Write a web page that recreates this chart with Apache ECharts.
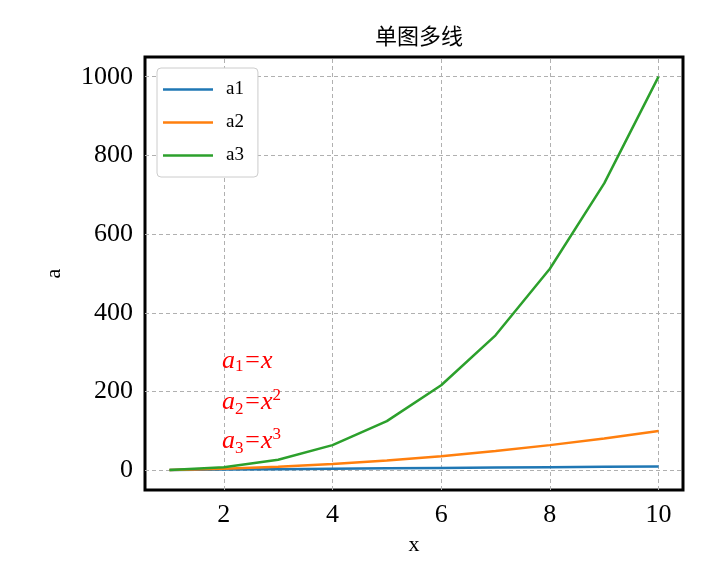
<!DOCTYPE html>
<html><head><meta charset="utf-8">
<script src="https://cdn.jsdelivr.net/npm/echarts@6/dist/echarts.min.js"></script>
<style>body{margin:0}#c{width:720px;height:576px}</style></head>
<body><div id="c"></div>
<script>
const xs=[1,2,3,4,5,6,7,8,9,10];
const a1=[1,2,3,4,5,6,7,8,9,10];
const a2=[1,4,9,16,25,36,49,64,81,100];
const a3=[1,8,27,64,125,216,343,512,729,1000];
const xTicks=[2,4,6,8,10];
const yTicks=[0,200,400,600,800,1000];
const F='Liberation Serif';
const c=echarts.init(document.getElementById('c'));
const grid=[...yTicks.map(v=>({yAxis:v})),...xTicks.map(v=>({xAxis:v}))];
c.setOption({
 animation:false,
 title:{text:'单图多线',left:414,top:20,textAlign:'center',textStyle:{fontFamily:'Noto Sans CJK SC',fontSize:22,fontWeight:'normal',color:'#000'}},
 grid:{left:145,right:37,top:57,bottom:86,show:true,borderColor:'#000',borderWidth:3},
 legend:{left:157,top:68,orient:'vertical',itemGap:14,padding:[12,14,12,6],borderColor:'#ccc',borderWidth:1,borderRadius:4,backgroundColor:'#fff',
   icon:'rect',itemWidth:50,itemHeight:2.5,textStyle:{fontFamily:F,fontSize:19,color:'#000',padding:[0,0,0,8]},data:['a1','a2','a3']},
 xAxis:{type:'value',min:0.55,max:10.45,interval:0.05,name:'x',nameLocation:'middle',nameGap:44,nameTextStyle:{fontFamily:F,fontSize:22,color:'#000'},
   axisLine:{show:false},axisTick:{show:false},splitLine:{show:false},
   axisLabel:{fontFamily:F,fontSize:26,color:'#000',margin:12,formatter:v=>{const r=Math.round(v);return Math.abs(v-r)<1e-6&&xTicks.includes(r)?String(r):'';}}},
 yAxis:{type:'value',min:-50,max:1050,interval:50,name:'a',nameLocation:'middle',nameGap:80,nameTextStyle:{fontFamily:F,fontSize:22,color:'#000'},
   axisLine:{show:false},axisTick:{show:false},splitLine:{show:false},
   axisLabel:{fontFamily:F,fontSize:26,color:'#000',margin:12,formatter:v=>yTicks.includes(Math.round(v))&&Math.abs(v-Math.round(v))<1e-6?String(Math.round(v)):''}},
 series:[
  {name:'a1',type:'line',data:xs.map((x,i)=>[x,a1[i]]),symbol:'none',lineStyle:{color:'#1f77b4',width:2.5},itemStyle:{color:'#1f77b4'},z:3,
   markLine:{silent:true,symbol:'none',label:{show:false},lineStyle:{color:'#b0b0b0',type:[4,3],width:1},data:grid,z:1}},
  {name:'a2',type:'line',data:xs.map((x,i)=>[x,a2[i]]),symbol:'none',lineStyle:{color:'#ff7f0e',width:2.5},itemStyle:{color:'#ff7f0e'},z:3},
  {name:'a3',type:'line',data:xs.map((x,i)=>[x,a3[i]]),symbol:'none',lineStyle:{color:'#2ca02c',width:2.5},itemStyle:{color:'#2ca02c'},z:3}
 ],
 graphic:[['1','x',''],['2','x','2'],['3','x','3']].map((t,i)=>({type:'text',left:222,top:348+i*39,z:10,style:{
   text:'{m|a}{s|'+t[0]+'}{m|=x}'+(t[2]?'{p|'+t[2]+'}':''),
   rich:{m:{fontFamily:F,fontStyle:'italic',fontSize:26,fill:'red'},s:{fontFamily:F,fontSize:17,fill:'red',verticalAlign:'bottom',padding:[12,0,0,0]},p:{fontFamily:F,fontSize:17,fill:'red',verticalAlign:'top',padding:[0,0,14,0]}}}}))
});
</script></body></html>
